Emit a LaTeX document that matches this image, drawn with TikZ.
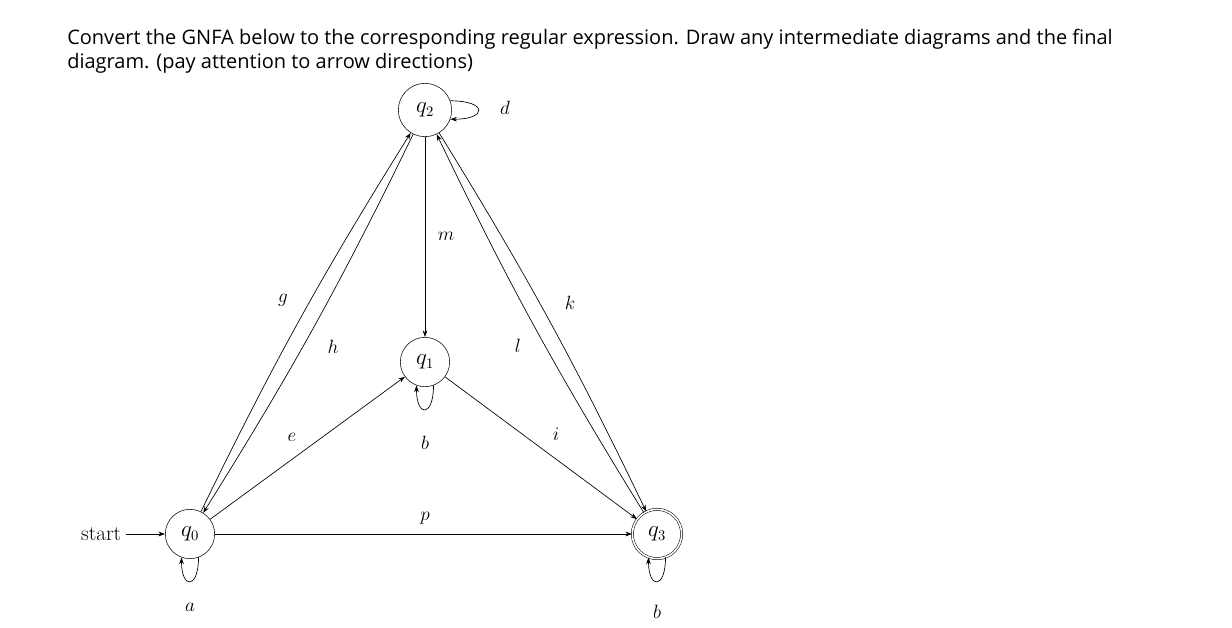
\documentclass[tikz,border=0pt]{standalone}
\usepackage{fontspec}
\newfontfamily\hdr{Open Sans}
\usetikzlibrary{arrows.meta}
\begin{document}
\begin{tikzpicture}[x=0.75pt,y=-0.75pt,
  st/.style={circle,draw,minimum size=40pt,inner sep=0pt,font=\fontsize{16}{18}\selectfont},
  acc/.style={st,double,double distance=1.2pt},
  lbl/.style={font=\fontsize{15}{17}\selectfont},
  ed/.style={-{Stealth[length=5pt,width=3.5pt]},line width=0.5pt}]
\useasboundingbox (0,0) rectangle (1232,628);
\node[anchor=north west,align=left,font=\hdr\fontsize{15}{18}\selectfont,inner sep=0pt] (hd) at (67,29)
 {Convert the GNFA below to the corresponding regular expression. Draw any intermediate diagrams and the final\\diagram. (pay attention to arrow directions)};
\node[st] (q2) at (425,110) {$q_2$};
\node[st,minimum size=37pt] (q1) at (425,362) {$q_1$};
\node[st,minimum size=37pt] (q0) at (190,534) {$q_0$};
\node[acc,minimum size=37pt] (q3) at (657,534) {$q_3$};
\node[lbl,anchor=east,font=\fontsize{16}{18}\selectfont] (s) at (126,534) {start};
\draw[ed] (s) -- (q0);
\draw[ed] (q0) to[bend left=3] (q2);
\draw[ed] (q2) to[bend left=3] (q0);
\draw[ed] (q0) -- (q1);
\draw[ed] (q2) -- (q1);
\draw[ed] (q1) -- (q3);
\draw[ed] (q2) to[bend left=3] (q3);
\draw[ed] (q3) to[bend left=3] (q2);
\draw[ed] (q0) -- (q3);
\draw[ed] (q2.20) to[out=0,in=0,distance=28pt] (q2.-20);
\draw[ed] (q1.-70) to[out=-90,in=-90,distance=24pt] (q1.-110);
\draw[ed] (q0.-70) to[out=-90,in=-90,distance=24pt] (q0.-110);
\draw[ed] (q3.-70) to[out=-90,in=-90,distance=24pt] (q3.-110);
\node[lbl] (ld) at (505,108) {$d$};
\node[lbl] (lm) at (446,236) {$m$};
\node[lbl] (lg) at (283,300) {$g$};
\node[lbl] (lh) at (333,347) {$h$};
\node[lbl] (lk) at (570,303) {$k$};
\node[lbl] (ll) at (518,346) {$l$};
\node[lbl] (le) at (292,437) {$e$};
\node[lbl] (li) at (556,434) {$i$};
\node[lbl] (lb1) at (425,443) {$b$};
\node[lbl] (lp) at (425,518) {$p$};
\node[lbl] (la) at (190,607) {$a$};
\node[lbl] (lb3) at (657,612) {$b$};
\end{tikzpicture}
\end{document}
